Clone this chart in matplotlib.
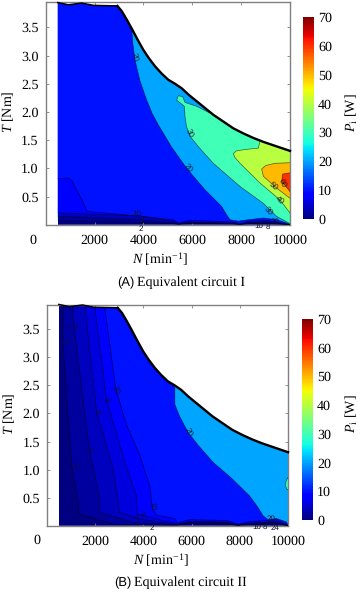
import numpy as np
import matplotlib
matplotlib.use("Agg")
import matplotlib.pyplot as plt
from matplotlib.patches import Polygon
from matplotlib.colors import Normalize
from matplotlib.cm import ScalarMappable

plt.rcParams['font.family'] = ['Liberation Serif', 'DejaVu Serif']
plt.rcParams['mathtext.fontset'] = 'custom'
plt.rcParams['mathtext.rm'] = 'Liberation Serif'
plt.rcParams['mathtext.it'] = 'Liberation Serif:italic'
plt.rcParams['text.hinting'] = 'no_hinting'
plt.rcParams['text.hinting_factor'] = 1

W, H = 360, 592

# torque limit, same for both circuits
limit_N = [491, 928, 1473, 1951, 2933, 3110, 3315, 3520, 3752, 3997, 4229, 4475, 4748, 5020, 5293, 5566, 5866,
           6180, 6521, 6862, 7271, 7681, 8090, 8499, 8909, 9318, 9659, 10000]
limit_T = [3.94, 3.90, 3.93, 3.89, 3.88, 3.79, 3.64, 3.48, 3.29, 3.10, 2.95, 2.81, 2.68, 2.57, 2.50, 2.42, 2.30,
           2.19, 2.07, 1.95, 1.83, 1.71, 1.62, 1.54, 1.47, 1.41, 1.36, 1.31]

# ----- circuit I, contours
mound1_N = [5430, 5907, 6862, 7681, 7954, 8295, 9045, 9591, 10000]
mound1_T = [0.02, 0.06, 0.05, 0.035, 0.01, 0.05, 0.065, 0.03, 0.0]

c1_2_N = [491, 2500, 4200, 5225]
c1_2_T = [0.07, 0.06, 0.04, 0.02]
c1_4_N = [491, 3861, 5225]
c1_4_T = [0.15, 0.09, 0.03]
c1_8_N = [491, 3861, 5225]
c1_8_T = [0.21, 0.16, 0.06]
c1_10_N = [491, 928, 1080, 1200, 1450, 1705, 3400, 5225, 5430, 5907, 6862, 7681, 7954, 8295, 9045, 9591, 10000]
c1_10_T = [0.815, 0.83, 0.78, 0.68, 0.47, 0.24, 0.17, 0.09, 0.03, 0.08, 0.065, 0.05, 0.02, 0.065, 0.08, 0.04, 0.005]
c1_20_N = [3520, 3570, 3656, 3860, 4134, 4350, 4611, 5150, 5771, 6500, 7203, 7400, 7544, 7885, 8295, 8909, 9454, 9932, 10000]
c1_20_T = [3.47, 3.20, 2.92, 2.55, 2.21, 1.98, 1.77, 1.38, 1.00, 0.63, 0.325, 0.18, 0.09, 0.065, 0.09, 0.12, 0.09, 0.02, 0.005]
c1_30_N = [10000, 9454, 8909, 7954, 6862, 6300, 5907, 5760, 5703, 5675, 5566, 5362, 5430, 5607, 5703, 6180, 6862]
c1_30_T = [0.02, 0.15, 0.38, 0.68, 1.09, 1.36, 1.57, 1.75, 1.92, 2.10, 2.14, 2.21, 2.29, 2.27, 2.17, 2.10, 1.95]
c1_40_N = [10000, 9591, 8772, 7954, 7750, 7681, 7800, 8090, 8704, 8772]
c1_40_T = [0.21, 0.44, 0.74, 1.09, 1.19, 1.26, 1.31, 1.33, 1.36, 1.48]
c1_50_N = [10000, 9454, 8909, 8840, 9000, 9386, 10000]
c1_50_T = [0.47, 0.65, 0.86, 0.99, 1.05, 1.09, 1.10]
c1_60_N = [10000, 9659, 9700, 10000]
c1_60_T = [0.59, 0.77, 0.90, 0.92]

# ----- circuit II
mound2_N = [5400, 5925, 7445, 7928, 8343, 9517, 9931, 10000]
mound2_T = [0.03, 0.09, 0.08, 0.015, 0.05, 0.09, 0.015, 0.0]

c2_2_N = [677, 650, 1022, 1298, 1340, 2750, 5235]
c2_2_T = [3.91, 3.29, 1.07, 0.415, 0.21, 0.03, 0.01]
c2_4_N = [1064, 1119, 1754, 2169, 2196, 3577, 5235]
c2_4_T = [3.90, 3.56, 1.36, 0.53, 0.24, 0.06, 0.02]
c2_6_N = [1575, 2058, 2749, 2956, 2997, 3854, 5235]
c2_6_T = [3.90, 2.02, 1.01, 0.415, 0.24, 0.12, 0.03]
c2_8_N = [1989, 2472, 3232, 3715, 3743, 4682, 5304]
c2_8_T = [3.87, 2.24, 1.13, 0.53, 0.21, 0.11, 0.05]
c2_10_N = [2403, 2859, 3300, 3854, 4268, 4378, 4544, 5304, 5400, 5925, 7445, 7928, 8343, 9517, 9931, 10000]
c2_10_T = [3.87, 2.43, 1.80, 1.25, 0.71, 0.30, 0.19, 0.13, 0.05, 0.11, 0.095, 0.03, 0.07, 0.11, 0.03, 0.01]
c2_20_N = [5304, 5304, 5500, 5856, 6300, 6892, 7650, 8412, 8750, 8964, 9171, 9517, 9931, 10000]
c2_20_T = [2.46, 2.16, 1.95, 1.66, 1.42, 1.13, 0.85, 0.53, 0.33, 0.18, 0.11, 0.13, 0.07, 0.01]
c2_30_N = [10000, 9920, 9900, 9940, 10000]
c2_30_T = [0.86, 0.80, 0.72, 0.66, 0.64]

# contour labels (text, N, T, rotation)
labels1 = [("20", 3629, 2.97, -80), ("30", 5880, 1.62, -65), ("20", 5812, 1.00, -50),
           ("60", 9700, 0.74, -65), ("50", 9318, 0.68, -40), ("40", 9591, 0.43, -40),
           ("30", 9113, 0.24, -50), ("20", 9386, 0.06, 0), ("10", 8720, -0.01, 0),
           ("10", 3724, 0.19, 0), ("4", 3929, 0.07, 0), ("2", 3888, -0.07, 0), ("8", 9080, -0.03, 0)]
labels2 = [("2", 649, 3.29, -85), ("4", 1119, 3.56, -85), ("2", 1119, 1.07, -80),
           ("4", 1754, 1.36, -75), ("6", 2058, 2.02, -80), ("8", 2472, 2.24, -80),
           ("10", 2859, 2.43, -75), ("10", 4378, 0.36, -80), ("20", 5870, 1.67, -65),
           ("8", 3964, 0.19, 0), ("6", 3743, 0.12, 0), ("2", 4337, -0.03, 0),
           ("20", 9309, 0.12, 0), ("10", 8720, -0.02, 0), ("8", 9050, -0.02, 0), ("24", 9480, -0.03, 0)]

x_ticks = [0, 2000, 4000, 6000, 8000, 10000]
x_ticklabels = ["", "2000", "4000", "6000", "8000", "10000"]
y_ticks = [0.5, 1.0, 1.5, 2.0, 2.5, 3.0, 3.5]
cb_ticks = [0, 10, 20, 30, 40, 50, 60, 70]

norm = Normalize(0, 70)
cmap = plt.get_cmap("jet")
spine_col = "#808080"


def box(left, top, right, bottom):
    return [left / W, 1 - bottom / H, (right - left) / W, (bottom - top) / H]


def draw_panel(ax, cax, bands, labels, ymax):
    clip = Polygon(list(zip(limit_N, limit_T)) + [(10000, 0), (491, 0)], transform=ax.transData,
                   fc="none", ec="none")
    ax.add_patch(clip)
    bg = ax.fill_between([491, 10000], 0, 4, color=cmap(norm(0)), lw=0, zorder=1)
    bg.set_clip_path(clip)
    for level, n, t, closed in bands:
        # fill from the contour up to the top right of the plot
        if closed:
            pts = list(zip(n, t))
        else:
            pts = list(zip(n, t)) + [(10000, 4.2), (n[0], 4.2)]
        p = Polygon(pts, fc=cmap(norm(level)), ec="none", zorder=2)
        ax.add_patch(p)
        p.set_clip_path(clip)
        l, = ax.plot(n, t, color="black", lw=0.5, alpha=0.6, zorder=3)
        l.set_clip_path(clip)
    ax.plot(limit_N[:5], limit_T[:5], color="black", lw=1.1, zorder=4, clip_on=False)
    ax.plot(limit_N[4:], limit_T[4:], color="black", lw=1.7, zorder=4, clip_on=False)
    for txt, n, t, rot in labels:
        ax.text(n, t, txt, fontsize=6, rotation=rot, ha="center", va="center", color="#101030",
                family=["Liberation Sans"], zorder=5)
    ax.set_xlim(0, 10000)
    ax.set_ylim(0, ymax)
    ax.set_xticks(x_ticks)
    ax.set_xticklabels(x_ticklabels)
    ax.set_yticks(y_ticks)
    ax.set_yticklabels([f"{v:.1f}" for v in y_ticks])
    ax.tick_params(direction="in", length=2, width=0.6, color=spine_col, top=True, right=True, labelsize=9.8)
    ax.tick_params(axis="x", pad=7)
    ax.tick_params(axis="y", pad=5)
    for s in ax.spines.values():
        s.set_color(spine_col)
        s.set_linewidth(1.0)
    cb = fig.colorbar(ScalarMappable(norm=norm, cmap=cmap), cax=cax)
    cb.set_ticks(cb_ticks)
    cb.ax.tick_params(length=0, labelsize=9.8, pad=3)
    cb.outline.set_visible(False)


def put(x, y, s, **kw):
    return fig.text(x / W, 1 - y / H, s, ha=kw.pop("ha", "center"), va=kw.pop("va", "center"), **kw)


fig = plt.figure(figsize=(W / 100, H / 100), dpi=100)

ax1 = fig.add_axes(box(45.7, 1.7, 290, 224.8))
cax1 = fig.add_axes(box(303, 17, 314, 219))
bands1 = [
    (2, c1_2_N + mound1_N, [v for v in c1_2_T] + [v * 0.4 for v in mound1_T], False),
    (4, c1_4_N + mound1_N, [v for v in c1_4_T] + [v * 0.6 for v in mound1_T], False),
    (8, c1_8_N + mound1_N, [v for v in c1_8_T] + [v * 0.85 for v in mound1_T], False),
    (10, c1_10_N, c1_10_T, False),
    (20, c1_20_N, c1_20_T, False),
    (30, c1_30_N + [6862, 10000], c1_30_T + [2.4, 2.4], True),
    (40, c1_40_N + [8772, 10000], c1_40_T + [2.0, 2.0], True),
    (50, c1_50_N, c1_50_T, True),
    (60, c1_60_N, c1_60_T, True),
]
draw_panel(ax1, cax1, bands1, labels1, 3.955)

ax2 = fig.add_axes(box(47, 305, 288, 525.8))
cax2 = fig.add_axes(box(302, 319, 313, 520))
bands2 = [
    (2, c2_2_N + mound2_N, [v for v in c2_2_T] + [v * 0.4 for v in mound2_T], False),
    (4, c2_4_N + mound2_N, [v for v in c2_4_T] + [v * 0.6 for v in mound2_T], False),
    (6, c2_6_N + mound2_N, [v for v in c2_6_T] + [v * 0.75 for v in mound2_T], False),
    (8, c2_8_N + mound2_N, [v for v in c2_8_T] + [v * 0.85 for v in mound2_T], False),
    (10, c2_10_N, c2_10_T, False),
    (20, c2_20_N, c2_20_T, False),
    (30, c2_30_N, c2_30_T, True),
]
draw_panel(ax2, cax2, bands2, labels2, 3.93)

put(33, 240, "0", fontsize=9.8)
put(36.5, 540, "0", fontsize=9.8)
put(8, 112, "$T$ [Nm]", fontsize=10, rotation=90)
put(9, 414, "$T$ [Nm]", fontsize=10, rotation=90)
put(160, 259, "$N$ [min$^{-1}$]", fontsize=10)
put(161, 560, "$N$ [min$^{-1}$]", fontsize=10)
put(351, 113, "$P_{\\mathrm{i}}$ [W]", fontsize=10, rotation=90)
put(351, 414, "$P_{\\mathrm{i}}$ [W]", fontsize=10, rotation=90)

put(135, 283, "(A)", fontsize=9, ha="right", family=["Liberation Sans"])
put(137, 283, "Equivalent circuit I", fontsize=10, ha="left")
put(132, 583, "(B)", fontsize=9, ha="right", family=["Liberation Sans"])
put(134, 583, "Equivalent circuit II", fontsize=10, ha="left")

fig.savefig("out.png", dpi=100)
